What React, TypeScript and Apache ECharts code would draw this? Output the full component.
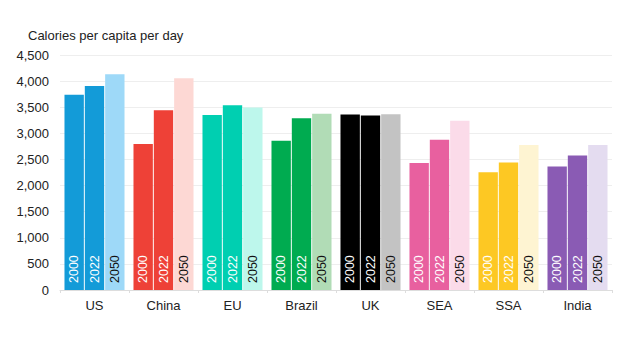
import React, { useEffect, useRef } from "react";
import * as echarts from "echarts";

const categories = ["US", "China", "EU", "Brazil", "UK", "SEA", "SSA", "India"];
const years = ["2000", "2022", "2050"];
const values2000 = [3740, 2795, 3350, 2860, 3360, 2430, 2255, 2365];
const values2022 = [3905, 3440, 3540, 3290, 3340, 2875, 2440, 2575];
const values2050 = [4130, 4055, 3495, 3375, 3365, 3240, 2775, 2775];
const darkColors = ["#139bd8", "#ee4137", "#00cfb1", "#00ab50", "#000000", "#e8609f", "#fdc823", "#8a5bb4"];
const midColors = ["#139bd8", "#ee4137", "#00cfb1", "#00ab50", "#000000", "#e8609f", "#fdc823", "#8a5bb4"];
const lightColors = ["#9ed9f8", "#fdd8d4", "#bdf7ec", "#b1dcb6", "#c3c3c3", "#fbdbe9", "#fef4d2", "#e4dcf0"];
const yTicks = { min: 0, max: 4500, interval: 500 };

export default function App() {
  const ref = useRef<HTMLDivElement>(null);
  useEffect(() => {
    if (!ref.current) return;
    const chart = echarts.init(ref.current, null, { renderer: "svg" });
    const font = "Liberation Sans, Arial, sans-serif";
    const mk = (name: string, vals: number[], colors: string[], labelColor: string) => ({
      name,
      type: "bar",
      barGap: "5%",
      barCategoryGap: "13%",
      data: vals.map((v, i) => ({ value: v, itemStyle: { color: colors[i] } })),
      label: {
        show: true,
        position: "insideBottom",
        rotate: 90,
        align: "left",
        verticalAlign: "middle",
        distance: 7,
        formatter: name,
        color: labelColor,
        fontSize: 12.5,
        fontFamily: font,
      },
    });
    chart.setOption({
      animation: false,
      textStyle: { fontFamily: font },
      title: {
        text: "Calories per capita per day",
        left: 23,
        top: 24,
        textStyle: { fontSize: 13, fontWeight: "normal", color: "#222", fontFamily: font },
      },
      grid: { left: 60, right: 28, top: 55, bottom: 69 },
      xAxis: {
        type: "category",
        data: categories,
        axisLine: { lineStyle: { color: "#dddddd" } },
        axisTick: { show: true, length: 3, lineStyle: { color: "#dddddd" } },
        axisLabel: { color: "#222", fontSize: 13, margin: 9, fontFamily: font },
      },
      yAxis: {
        type: "value",
        min: yTicks.min,
        max: yTicks.max,
        interval: yTicks.interval,
        axisLine: { show: false },
        axisTick: { show: false },
        splitLine: { lineStyle: { color: "#eeeeee" } },
        axisLabel: {
          color: "#222",
          fontSize: 13,
          margin: 11,
          fontFamily: font,
          formatter: (v: number) => v.toLocaleString("en-US"),
        },
      },
      series: [
        mk(years[0], values2000, darkColors, "#ffffff"),
        mk(years[1], values2022, midColors, "#ffffff"),
        mk(years[2], values2050, lightColors, "#111111"),
      ],
    });
    return () => chart.dispose();
  }, []);
  return <div ref={ref} style={{ width: 640, height: 359, position: "absolute", left: 0, top: 0 }} />;
}
